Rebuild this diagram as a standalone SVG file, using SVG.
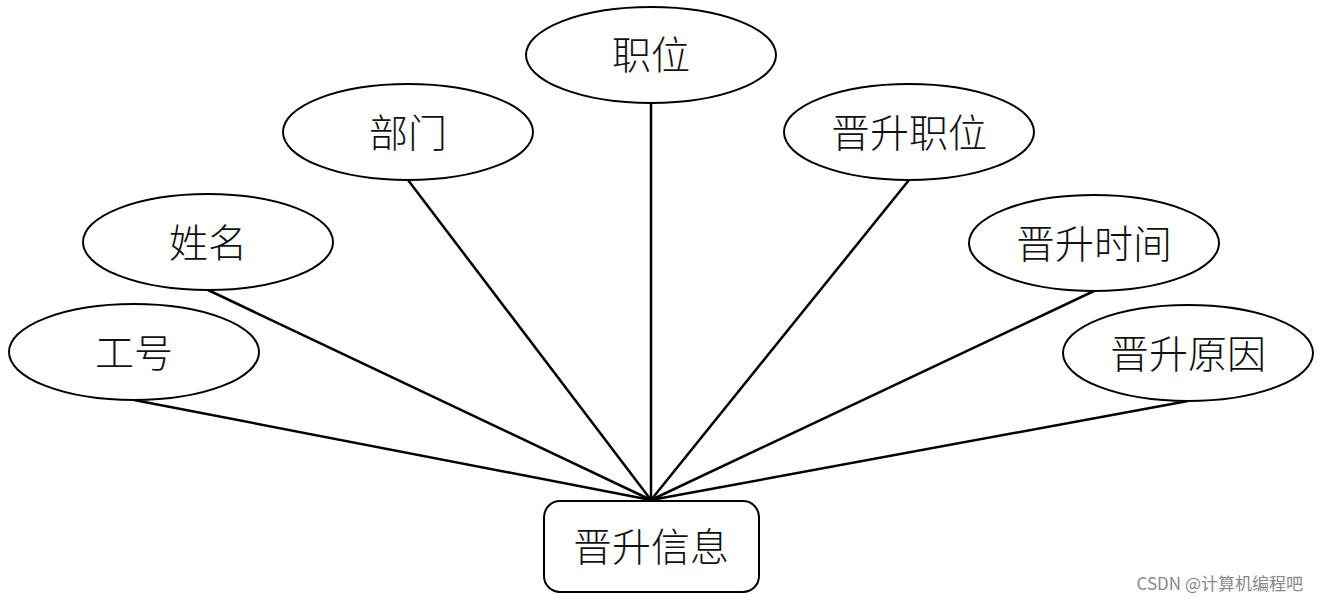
<svg xmlns="http://www.w3.org/2000/svg" width="1318" height="604" viewBox="0 0 1318 604">
<style>
.n{fill:#fff;stroke:#000;stroke-width:2}
.t{font-family:"Noto Sans CJK SC",sans-serif;font-size:39px;font-weight:300;fill:#111;text-anchor:middle;dominant-baseline:central}
.c line{stroke:#000;stroke-width:2.5}
.w{font-family:"Noto Sans CJK SC",sans-serif;font-size:17px;fill:#888;text-anchor:end}
</style>
<rect width="1318" height="604" fill="#fff"/>
<g class="c">
<line x1="134" y1="400" x2="651" y2="500"/>
<line x1="208" y1="290" x2="651" y2="500"/>
<line x1="408" y1="180" x2="651" y2="500"/>
<line x1="651" y1="103" x2="651" y2="500"/>
<line x1="909" y1="180" x2="651" y2="500"/>
<line x1="1094" y1="291" x2="651" y2="500"/>
<line x1="1188" y1="401" x2="651" y2="500"/>
</g>
<g id="gonghao"><ellipse class="n" cx="134" cy="352" rx="125" ry="48"/><text class="t" x="134" y="350">工号</text></g>
<g id="xingming"><ellipse class="n" cx="208" cy="242" rx="125" ry="48"/><text class="t" x="208" y="240">姓名</text></g>
<g id="bumen"><ellipse class="n" cx="408" cy="132" rx="125" ry="48"/><text class="t" x="408" y="130">部门</text></g>
<g id="zhiwei"><ellipse class="n" cx="651" cy="55" rx="125" ry="48"/><text class="t" x="651" y="52">职位</text></g>
<g id="jszw"><ellipse class="n" cx="909" cy="132" rx="125" ry="48"/><text class="t" x="909" y="130">晋升职位</text></g>
<g id="jssj"><ellipse class="n" cx="1094" cy="243" rx="125" ry="48"/><text class="t" x="1094" y="241">晋升时间</text></g>
<g id="jsyy"><ellipse class="n" cx="1188" cy="353" rx="125" ry="48"/><text class="t" x="1188" y="351">晋升原因</text></g>
<g id="jsxx"><rect class="n" x="544" y="501" width="215" height="91" rx="16"/><text class="t" x="651" y="544">晋升信息</text></g>
<text class="w" x="1303" y="590">CSDN @计算机编程吧</text>
</svg>
